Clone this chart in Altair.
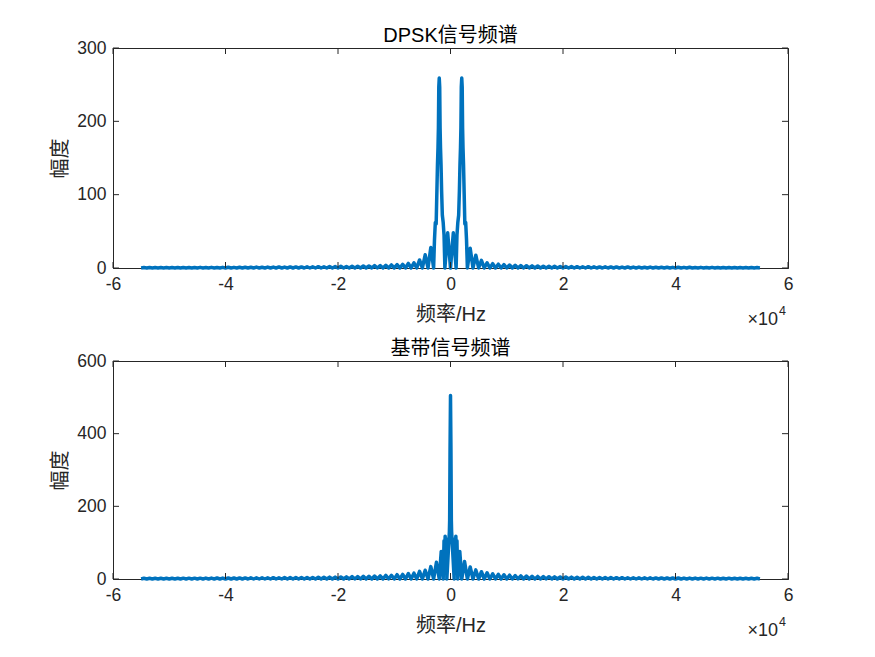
import altair as alt
import pandas as pd

BLUE = "#0072BD"
AX = "#262626"
FONT = "Liberation Sans, Noto Sans CJK SC"

X_TICKS = [-60000, -40000, -20000, 0, 20000, 40000, 60000]
TOP_Y_TICKS = [0, 100, 200, 300]
BOT_Y_TICKS = [0, 200, 400, 600]

# spectral nulls every 1 kHz across the plotted band (Hz)
NULL_F = list(range(-55000, 55001, 1000))

# ---------------- DPSK spectrum (top) ----------------
# side-lobe maxima, listed from the carrier outward (at ±3500, ±4500, ... Hz)
TOP_LOBES_POS = [27, 17.5, 10.5, 7.2, 6.0, 5.2, 4.6, 4.1, 3.7, 3.4, 3.1, 2.9, 2.7, 2.5, 2.3,
                 2.2, 2.1, 2.0, 1.9, 1.8, 1.7, 1.8, 1.6, 1.5, 1.6, 1.4, 1.5, 1.3, 1.4, 1.2,
                 1.3, 1.1, 1.2, 1.1, 1.0, 1.1, 0.9, 1.0, 0.9, 1.0, 0.8, 0.9, 0.8, 0.9, 0.7,
                 0.8, 0.7, 0.8, 0.6, 0.7, 0.8, 0.6]
TOP_LOBES_NEG = [28, 18, 11, 7.0, 6.2, 5.0, 4.5, 4.2, 3.6, 3.3, 3.2, 2.8, 2.7, 2.4, 2.4,
                 2.1, 2.2, 1.9, 2.0, 1.7, 1.8, 1.6, 1.7, 1.5, 1.4, 1.5, 1.3, 1.4, 1.2, 1.3,
                 1.1, 1.2, 1.0, 1.1, 1.0, 0.9, 1.0, 0.9, 0.8, 0.9, 0.8, 0.9, 0.7, 0.8, 0.7,
                 0.8, 0.7, 0.6, 0.7, 0.6, 0.7, 0.6]
# main lobes around the ±2 kHz carrier and the two small lobes between them
TOP_MAIN_F = [-2850, -2700, -2550, -2420, -2320, -2220, -2150, -2080, -2000, -1920, -1850,
              -1780, -1680, -1580, -1450, -1300, -1150, -500, 500,
              1150, 1300, 1450, 1580, 1680, 1780, 1850, 1920, 2000, 2080, 2150, 2220,
              2320, 2420, 2550, 2700, 2850]
TOP_MAIN_MAG = [38, 62, 60, 105, 140, 165, 191, 247, 259, 247, 191,
                165, 140, 105, 72, 62, 45, 48, 48,
                45, 62, 72, 105, 140, 165, 191, 247, 259, 247, 191, 165,
                140, 105, 60, 62, 38]

# ---------------- baseband spectrum (bottom) ----------------
BOT_LOBES_POS = [48, 33, 25, 20, 17, 14.5, 13, 11.5, 10.5, 9.6, 8.8, 8.2, 7.6, 7.1, 6.7,
                 6.3, 5.9, 5.6, 5.4, 5.1, 4.9, 4.7, 4.5, 4.3, 4.2, 4.0, 3.9, 3.7, 3.6, 3.5,
                 3.4, 3.3, 3.2, 3.1, 2.9, 3.0, 2.8, 2.7, 2.8, 2.6, 2.5, 2.6, 2.4, 2.5, 2.3,
                 2.4, 2.2, 2.3, 2.1, 2.2, 2.0, 2.1, 1.9]
BOT_LOBES_NEG = [46, 34, 24, 21, 16, 15, 12.6, 11.8, 10.2, 9.8, 8.6, 8.3, 7.4, 7.2, 6.6,
                 6.4, 5.8, 5.7, 5.3, 5.2, 4.8, 4.8, 4.4, 4.4, 4.1, 4.1, 3.8, 3.8, 3.5, 3.6,
                 3.3, 3.4, 3.1, 3.2, 2.9, 3.0, 2.8, 2.8, 2.6, 2.7, 2.5, 2.6, 2.4, 2.4, 2.3,
                 2.3, 2.2, 2.2, 2.1, 2.1, 2.0, 2.0, 1.9]
BOT_MAIN_F = [-1650, -1300, -1150, -1050, -950, -850, -750, -650, -200, -150, -80, 0,
              80, 150, 200, 650, 750, 850, 950, 1050, 1150, 1300, 1650]
BOT_MAIN_MAG = [76, 0, 105, 70, 118, 60, 110, 0, 130, 162, 355, 505,
                355, 162, 130, 0, 110, 60, 118, 70, 105, 0, 76]


def build(lobes_pos, lobes_neg, first_lobe, main_f, main_mag, skip_nulls):
    rows = []
    for f in NULL_F:
        if f not in skip_nulls:
            rows.append((f, 0.0))
    for i, m in enumerate(lobes_pos):
        rows.append((first_lobe + 1000 * i, m))
    for i, m in enumerate(lobes_neg):
        rows.append((-(first_lobe + 1000 * i), m))
    rows += list(zip(main_f, main_mag))
    df = pd.DataFrame(rows, columns=["f", "mag"]).sort_values("f").reset_index(drop=True)
    df["i"] = range(len(df))
    return df


top_df = build(TOP_LOBES_POS, TOP_LOBES_NEG, 3500, TOP_MAIN_F, TOP_MAIN_MAG, {-2000, 2000})
bot_df = build(BOT_LOBES_POS, BOT_LOBES_NEG, 2500, BOT_MAIN_F, BOT_MAIN_MAG, {-1000, 0, 1000})

W = 675


def panel(df, title, yticks, H):
    xs = alt.Scale(domain=[-60000, 60000], nice=False, zero=False)
    ys = alt.Scale(domain=[yticks[0], yticks[-1]], nice=False)
    xa = alt.Axis(values=X_TICKS, labelExpr="'' + (datum.value / 10000)",
                  title="频率/Hz", labelPadding=7, titlePadding=12, labelFlush=False)
    ya = alt.Axis(values=yticks, title="幅度", labelPadding=7, titlePadding=6)
    line = alt.Chart(df).mark_line(color=BLUE, strokeWidth=3.5, strokeJoin="round").encode(
        x=alt.X("f:Q", scale=xs, axis=xa, title="频率/Hz"),
        y=alt.Y("mag:Q", scale=ys, axis=ya, title="幅度"),
        order="i:Q",
    )
    tdf = pd.DataFrame({"t": X_TICKS})
    ydf = pd.DataFrame({"t": yticks})
    xb = alt.Chart(tdf).mark_rule(color=AX, strokeWidth=1).encode(
        x=alt.X("t:Q", scale=xs, axis=xa, title="频率/Hz"), y=alt.value(H), y2=alt.value(H - 6))
    xt = alt.Chart(tdf).mark_rule(color=AX, strokeWidth=1).encode(
        x=alt.X("t:Q", scale=xs, axis=xa, title="频率/Hz"), y=alt.value(0), y2=alt.value(6))
    yl = alt.Chart(ydf).mark_rule(color=AX, strokeWidth=1).encode(
        y=alt.Y("t:Q", scale=ys, axis=ya, title="幅度"), x=alt.value(0), x2=alt.value(6))
    yr = alt.Chart(ydf).mark_rule(color=AX, strokeWidth=1).encode(
        y=alt.Y("t:Q", scale=ys, axis=ya, title="幅度"), x=alt.value(W), x2=alt.value(W - 6))
    one = pd.DataFrame({"a": [0]})
    exp10 = alt.Chart(one).mark_text(align="right", baseline="alphabetic", fontSize=18,
                                     font=FONT, color=AX).encode(
        x=alt.value(W - 10), y=alt.value(H + 57), text=alt.value("×10"))
    exp4 = alt.Chart(one).mark_text(align="left", baseline="alphabetic", fontSize=12.5,
                                    font=FONT, color=AX).encode(
        x=alt.value(W - 9), y=alt.value(H + 47), text=alt.value("4"))
    return alt.layer(line, xb, xt, yl, yr, exp10, exp4).properties(
        width=W, height=H,
        title=alt.TitleParams(title, anchor="middle", offset=-7))


top = panel(top_df, "DPSK信号频谱", TOP_Y_TICKS, 220)
bot = panel(bot_df, "基带信号频谱", BOT_Y_TICKS, 218)

chart = alt.vconcat(top, bot, spacing=93, bounds="flush").properties(
    padding={"left": 42, "top": 17, "right": 5, "bottom": 5}
).configure_axis(
    labelFont=FONT, labelFontSize=17.5, labelColor=AX,
    titleFont=FONT, titleFontSize=20, titleFontWeight="normal", titleColor=AX,
    domainColor=AX, domainWidth=1, grid=False, ticks=False, tickSize=0,
).configure_title(
    font=FONT, fontSize=20, fontWeight="normal", color="#000000",
).configure_view(stroke=AX, strokeWidth=1)

chart.save("out.html", embed_options={"renderer": "svg", "actions": False})
